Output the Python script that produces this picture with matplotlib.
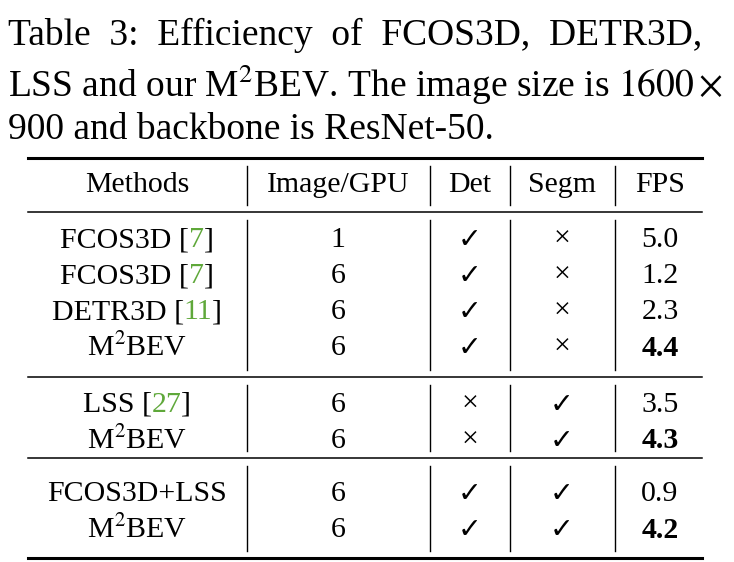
import matplotlib
matplotlib.use("Agg")
import matplotlib.pyplot as plt

plt.rcParams['font.family'] = ['Liberation Serif', 'DejaVu Serif']
plt.rcParams['mathtext.fontset'] = 'stix'

title_lines = ["Table  3:  Efficiency  of  FCOS3D,  DETR3D,",
               "LSS and our M$^2$BEV. The image size is $1600\\times$",
               "900 and backbone is ResNet-50."]
headers = ["Methods", "Image/GPU", "Det", "Segm", "FPS"]
methods = ["FCOS3D", "FCOS3D", "DETR3D", "M$^2$BEV", "LSS", "M$^2$BEV", "FCOS3D+LSS", "M$^2$BEV"]
refs = ["7", "7", "11", "", "27", "", "", ""]
image_per_gpu = ["1", "6", "6", "6", "6", "6", "6", "6"]
det = [True, True, True, True, False, False, True, True]
segm = [False, False, False, False, True, True, True, True]
fps = ["5.0", "1.2", "2.3", "4.4", "3.5", "4.3", "0.9", "4.2"]
bold = [False, False, False, True, False, True, False, True]

W, H = 734, 562
fig = plt.figure(figsize=(W/100, H/100), dpi=100)
ax = fig.add_axes([0, 0, 1, 1])
ax.set_xlim(0, W); ax.set_ylim(H, 0); ax.axis('off')

tfs = 27
ax.text(8, 35, title_lines[0], fontsize=tfs, va='center', ha='left')
ax.text(8, 85, title_lines[1], fontsize=tfs, va='center', ha='left')
ax.text(8, 130, title_lines[2], fontsize=tfs, va='center', ha='left')

fs = 21.5
cols = [137, 338, 470, 562, 660]
vlines = [247, 430, 510, 615]
xl, xr = 28, 702
green = '#5fa83a'

ax.plot([xl, xr], [158, 158], color='k', lw=2.2)
ax.plot([xl, xr], [558, 558], color='k', lw=2.2)
for y in [212, 377, 458]:
    ax.plot([xl, xr], [y, y], color='k', lw=1.1)

def vl(y0, y1):
    for x in vlines:
        ax.plot([x, x], [y0, y1], color='k', lw=1.0)

hy = 185
for x, h in zip(cols, headers):
    ax.text(x, hy, h, fontsize=fs, ha='center', va='center')
vl(166, 205)

row_y = [240, 276, 312, 348, 405, 441, 494, 530]
for s in [(220, 370), (385, 451), (466, 551)]:
    vl(*s)

for i in range(len(methods)):
    y = row_y[i]
    if refs[i]:
        t = ax.text(cols[0], y, methods[i] + " [" + refs[i] + "]", fontsize=fs, ha='center', va='center', alpha=0)
        fig.canvas.draw()
        bb = t.get_window_extent()
        t.remove()
        t1 = ax.text(bb.x0, y, methods[i] + " [", fontsize=fs, ha='left', va='center')
        fig.canvas.draw()
        b1 = t1.get_window_extent()
        t2 = ax.text(b1.x1, y, refs[i], fontsize=fs, ha='left', va='center', color=green)
        fig.canvas.draw()
        b2 = t2.get_window_extent()
        ax.text(b2.x1, y, "]", fontsize=fs, ha='left', va='center')
    else:
        ax.text(cols[0], y, methods[i], fontsize=fs, ha='center', va='center')
    ax.text(cols[1], y, image_per_gpu[i], fontsize=fs, ha='center', va='center')
    for c, v in ((2, det[i]), (3, segm[i])):
        if v:
            ax.text(cols[c], y, "✓", fontsize=fs-1, ha='center', va='center', family=['DejaVu Sans'])
        else:
            ax.text(cols[c], y, "×", fontsize=fs, ha='center', va='center')
    ax.text(cols[4], y, fps[i], fontsize=fs, ha='center', va='center', weight='bold' if bold[i] else 'normal')

fig.savefig("out.png", dpi=100)
